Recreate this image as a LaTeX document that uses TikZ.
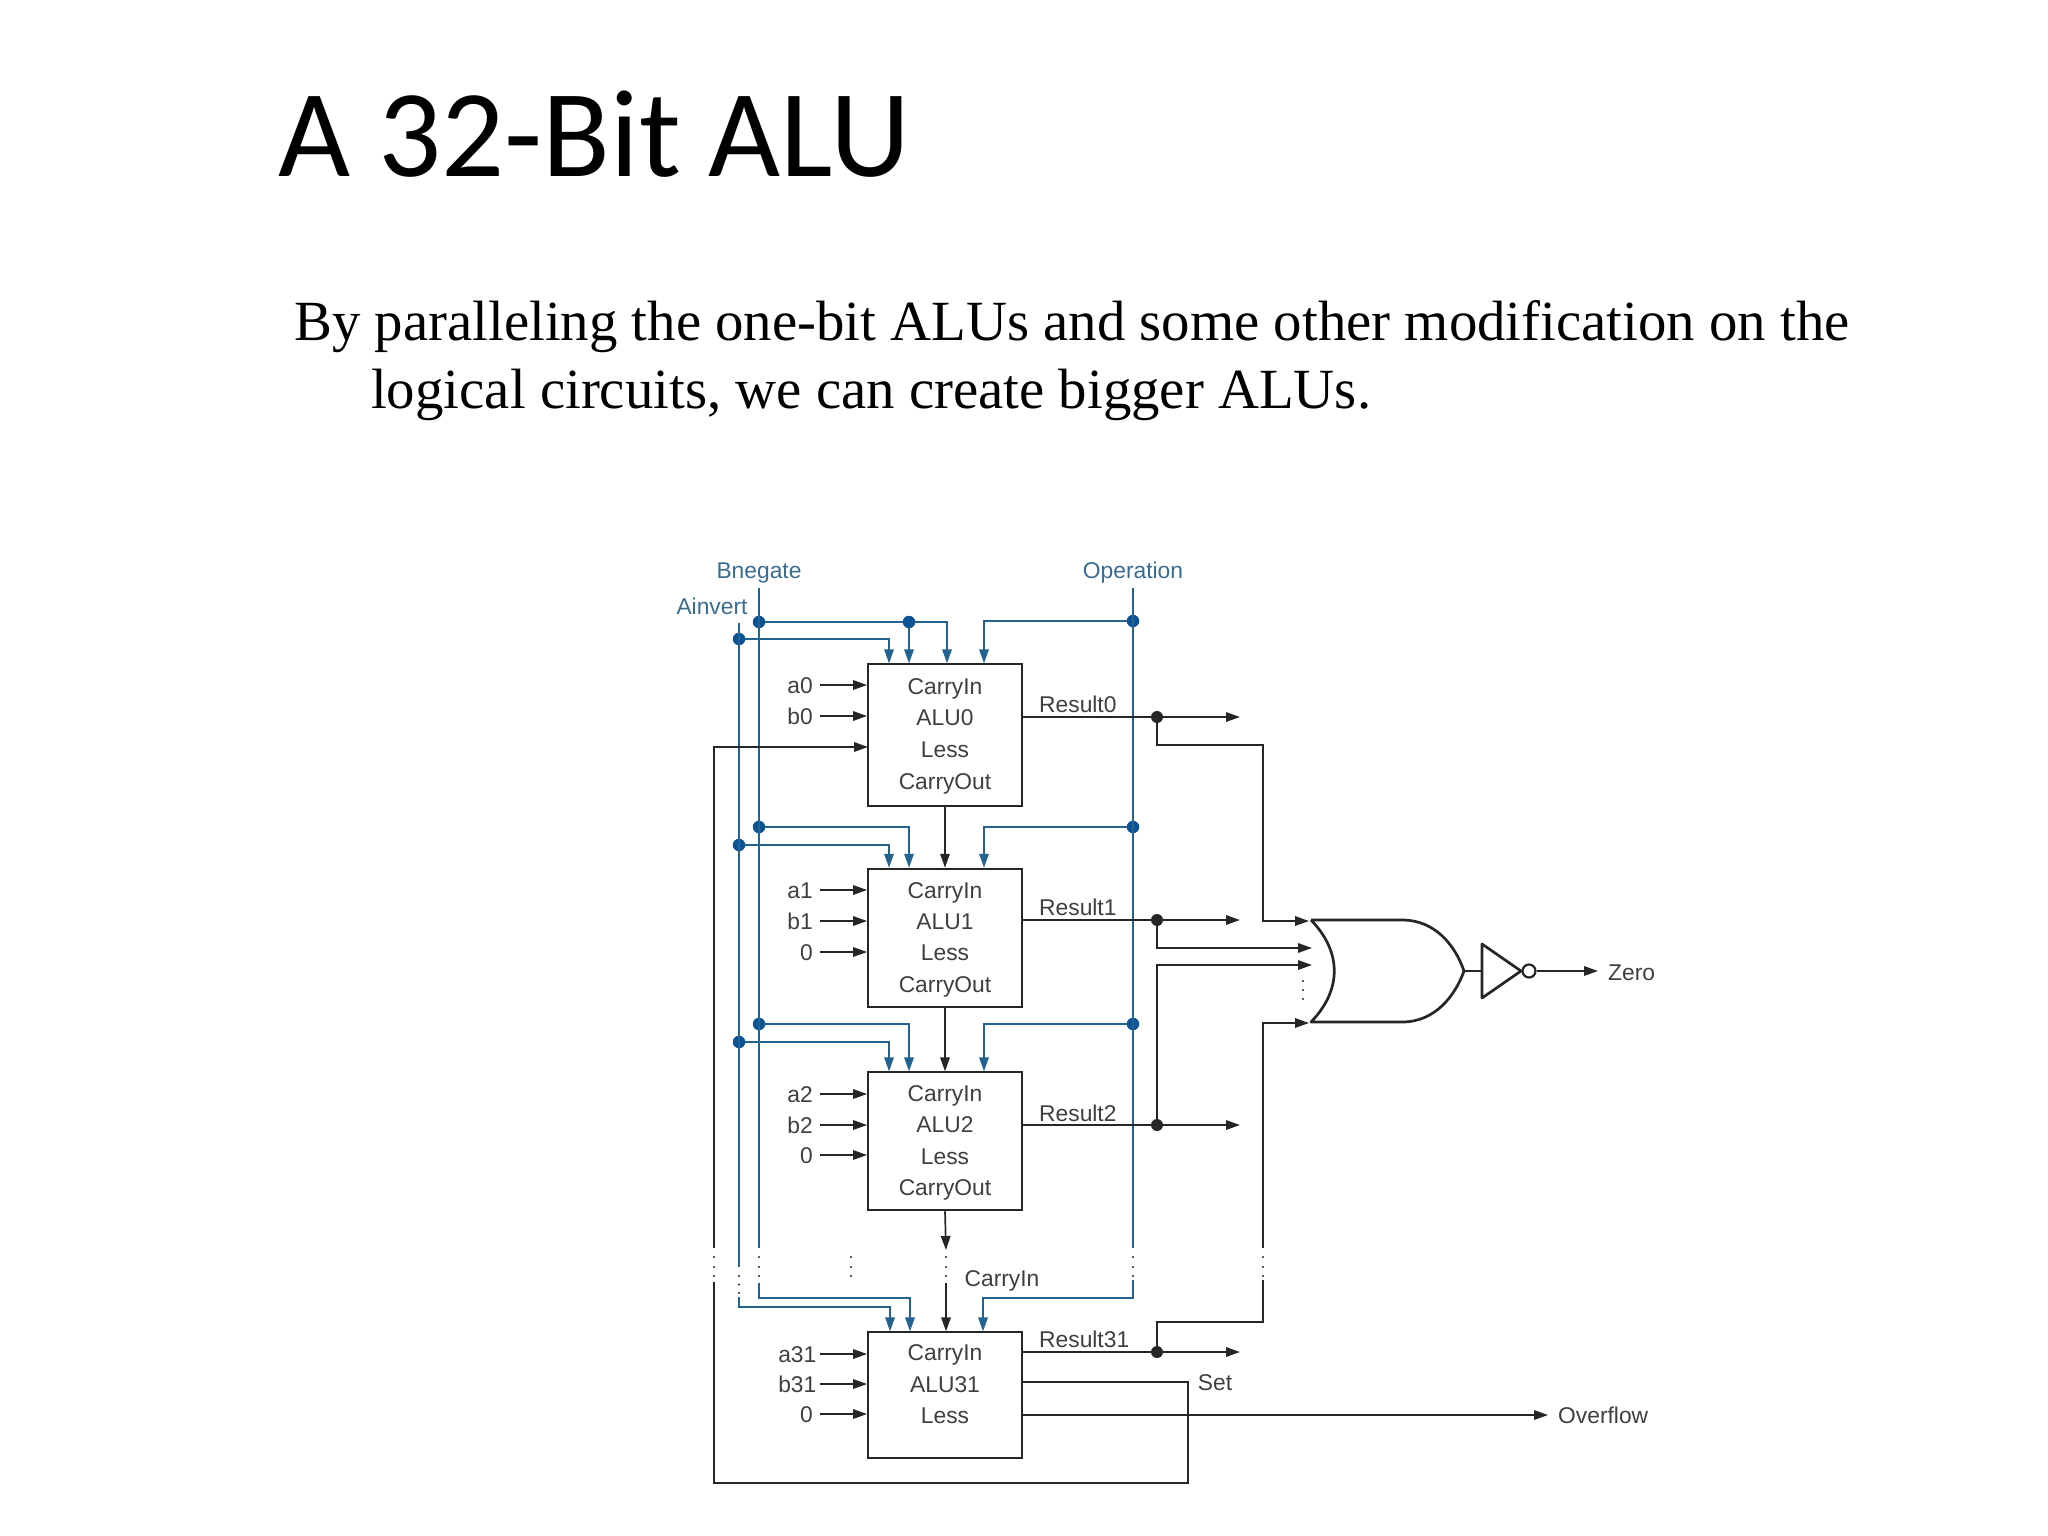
\documentclass[tikz,border=0pt]{standalone}
\usepackage{fontspec}
\usetikzlibrary{arrows.meta}
\newfontfamily\titlefont{Carlito}
\newfontfamily\bodyfont{Liberation Serif}
\setmainfont{Liberation Sans}
\definecolor{wirec}{HTML}{262626}
\definecolor{busc}{HTML}{22648F}
\definecolor{busdotc}{HTML}{0B5394}
\definecolor{lblc}{HTML}{3F3F3F}
\definecolor{buslblc}{HTML}{3A6C90}
\tikzset{
  wire/.style={draw=wirec,line width=1.7pt},
  wirearr/.style={wire,-{Triangle[length=14pt,width=9.5pt]}},
  bus/.style={draw=busc,line width=1.7pt},
  busarr/.style={bus,-{Triangle[length=14pt,width=9.5pt]}},
  gate/.style={draw=wirec,line width=2.7pt,line join=round},
  alu/.style={draw=wirec,line width=1.9pt,fill=white,minimum width=154pt,inner sep=0pt},
  lbl/.style={text=lblc,font=\fontsize{22.8}{23}\selectfont,text height=16.5pt,text depth=0pt,inner sep=0pt},
  buslbl/.style={lbl,text=buslblc},
  input/.style={lbl,anchor=east,inner xsep=7pt},
  jdot/.style={circle,fill=wirec,minimum size=12pt,inner sep=0pt},
  bdot/.style={circle,fill=busdotc,minimum size=12.5pt,inner sep=0pt},
  bubble/.style={circle,draw=wirec,line width=2.2pt,minimum size=13pt,inner sep=0pt}
}
\begin{document}
\begin{tikzpicture}[x=1pt,y=-1pt]
  \useasboundingbox (0,0) rectangle (2048,1536);

  % heading
  \node[anchor=base west,inner sep=0pt,font=\titlefont\fontsize{124.5}{124.5}\selectfont] (title) at (278,176) {A 32-Bit ALU};
  \node[anchor=base west,inner sep=0pt,font=\bodyfont\fontsize{56.8}{56.8}\selectfont] (line1) at (294,340) {By paralleling the one-bit ALUs and some other modification on the};
  \node[anchor=base west,inner sep=0pt,font=\bodyfont\fontsize{56.8}{56.8}\selectfont] (line2) at (371,408) {logical circuits, we can create bigger ALUs.};

  % ALU boxes
  \foreach \i/\t/\b in {0/664.3/805.7,1/868.7/1006.7,2/1072.3/1210.3,31/1332.3/1458}
    \node[alu,minimum height={(\b-\t)*1pt}] (alu\i) at (945,{(\t+\b)/2}) {};

  % text in the boxes
  \foreach \i/\p/\q/\r/\s in {0/686/717/749/781,1/890/921/952/984,2/1093/1124/1156/1187}{
    \node[lbl] (ci\i) at (945,\p) {CarryIn};
    \node[lbl] (nm\i) at (945,\q) {ALU\i};
    \node[lbl] (ls\i) at (945,\r) {Less};
    \node[lbl] (co\i) at (945,\s) {CarryOut};
  }
  \node[lbl] (ci31) at (945,1352) {CarryIn};
  \node[lbl] (nm31) at (945,1384) {ALU31};
  \node[lbl] (ls31) at (945,1415) {Less};

  % inputs
  \node[input] (a0) at (820,685) {a0};
  \node[input] (b0) at (820,716) {b0};
  \node[input] (a1) at (820,890) {a1};
  \node[input] (b1) at (820,921) {b1};
  \node[input] (z1) at (820,952) {0};
  \node[input] (a2) at (820,1094) {a2};
  \node[input] (b2) at (820,1125) {b2};
  \node[input] (z2) at (820,1155) {0};
  \node[input,inner xsep=3.5pt] (a31) at (820,1354) {a31};
  \node[input,inner xsep=3.5pt] (b31) at (820,1384) {b31};
  \node[input] (z31) at (820,1414) {0};
  \foreach \n/\i in {a0/0,b0/0,a1/1,b1/1,z1/1,a2/2,b2/2,z2/2,a31/31,b31/31,z31/31}
    \draw[wirearr] (\n.east) -- (\n.east -| alu\i.west);

  % carry chain
  \coordinate (cyA) at (946,1250);
  \coordinate (cyB) at (946,1283);
  \draw[wirearr] (alu0.south) -- (alu1.north);
  \draw[wirearr] (alu1.south) -- (alu2.north);
  \draw[wirearr] (alu2.south) -- (cyA);
  \draw[wirearr] (cyB) -- (cyB |- alu31.north);
  \node[lbl] (cyl) at (1002,1278) {CarryIn};

  % control buses
  \node[buslbl] (bnl) at (759,570) {Bnegate};
  \node[buslbl] (ail) at (712,606) {Ainvert};
  \node[buslbl] (opl) at (1133,570) {Operation};
  \coordinate (cA) at (889,0);
  \coordinate (cB) at (909,0);
  \coordinate (cD) at (984,0);
  \coordinate (bnT) at (759,588);
  \coordinate (aiT) at (739,623);
  \coordinate (opT) at (1133,588);
  \coordinate (bnE) at (759,1248);
  \coordinate (aiE) at (739,1267);
  \coordinate (opE) at (1133,1248);
  \coordinate (bnR) at (759,1283);
  \coordinate (aiR) at (739,1297);
  \coordinate (opR) at (1133,1280);
  \node[bdot] (bn0) at (759,622) {};
  \node[bdot] (bn1) at (759,827) {};
  \node[bdot] (bn2) at (759,1024) {};
  \node[bdot] (ai0) at (739,639) {};
  \node[bdot] (ai1) at (739,845) {};
  \node[bdot] (ai2) at (739,1042) {};
  \node[bdot] (op0) at (1133,621) {};
  \node[bdot] (op1) at (1133,827) {};
  \node[bdot] (op2) at (1133,1024) {};
  \node[bdot] (mid0) at (909,622) {};
  \draw[bus] (bnT) -- (bnE);
  \draw[bus] (aiT) -- (aiE);
  \draw[bus] (opT) -- (opE);
  \draw[bus] (bn0) -- (mid0);
  \draw[busarr] (mid0) -- (cB |- alu0.north);
  \draw[busarr] (mid0) -| (alu0.north -| 947,0);
  \draw[busarr] (ai0) -| (cA |- alu0.north);
  \draw[busarr] (op0) -| (cD |- alu0.north);
  \foreach \i in {1,2}{
    \draw[busarr] (bn\i) -| (cB |- alu\i.north);
    \draw[busarr] (ai\i) -| (cA |- alu\i.north);
    \draw[busarr] (op\i) -| (cD |- alu\i.north);
  }
  \coordinate (bnK) at (910,1298);
  \coordinate (aiK) at (890,1307);
  \coordinate (opK) at (983,1298);
  \draw[busarr] (bnR) |- (bnK) -- (bnK |- alu31.north);
  \draw[busarr] (aiR) |- (aiK) -- (aiK |- alu31.north);
  \draw[busarr] (opR) |- (opK) -- (opK |- alu31.north);

  % results
  \node[jdot] (r0) at (1157,717) {};
  \node[jdot] (r1) at (1157,920) {};
  \node[jdot] (r2) at (1157,1125) {};
  \node[jdot] (r31) at (1157,1352) {};
  \foreach \i/\y in {0/704,1/907,2/1113,31/1339}{
    \node[lbl,anchor=west] (rl\i) at (1039,\y) {Result\i};
    \draw[wire] (alu\i.east |- r\i) -- (r\i);
    \coordinate (re\i) at (r\i -| 1240,0);
    \draw[wirearr] (r\i) -- (re\i);
  }

  % or gate inputs
  \coordinate (orA) at (1309,921);
  \coordinate (orB) at (1312,948);
  \coordinate (orC) at (1312,965);
  \coordinate (orD) at (1309,1023);
  \coordinate (zeA) at (1263,745);
  \coordinate (zeB) at (1263,1248);
  \coordinate (zeC) at (1263,1280);
  \coordinate (zeD) at (1263,1322);
  \draw[wirearr] (r0) |- (zeA) |- (orA);
  \draw[wirearr] (r1) |- (orB);
  \draw[wirearr] (r2) |- (orC);
  \draw[wire] (r31) |- (zeD) -- (zeC);
  \draw[wirearr] (zeB) |- (orD);

  % or gate and inverter
  \draw[gate] (1311,920) -- (1402,920) .. controls (1435,920) and (1455,945) .. (1464,971)
    .. controls (1455,996) and (1435,1022) .. (1402,1022) -- (1311,1022)
    .. controls (1342,990) and (1342,952) .. (1311,920);
  \draw[gate] (1482,944) -- (1521,971) -- (1482,998) -- cycle;
  \draw[wire] (1464,971) -- (1482,971);
  \node[bubble] (bub) at (1529,971) {};
  \node[lbl,anchor=west,inner xsep=10pt] (zero) at (1598,972) {Zero};
  \draw[wirearr] (bub) -- (bub -| zero.west);

  % set and overflow
  \node[lbl] (setl) at (1215,1382) {Set};
  \node[lbl,anchor=west,inner xsep=10pt] (ovf) at (1548,1415) {Overflow};
  \draw[wirearr] (alu31.east |- ovf.west) -- (ovf.west);
  \coordinate (stA) at (1021,1382);
  \coordinate (stB) at (1188,1483);
  \coordinate (stC) at (714,1282);
  \coordinate (lsT) at (714,1248);
  \coordinate (lsE) at (868,747);
  \draw[wire] (stA) -| (stB) -| (stC);
  \draw[wirearr] (lsT) |- (lsE);

  % dots where the columns are cut
  \foreach \x in {714,759,851,946,1133,1263}
    \foreach \y in {1257,1267,1276}
      \fill[wirec] (\x,\y) circle (1.1pt);
  \foreach \y in {1276,1284.5,1293}
    \fill[wirec] (739,\y) circle (1.1pt);
  \foreach \y in {981,990,999}
    \fill[wirec] (1303,\y) circle (1.1pt);
\end{tikzpicture}
\end{document}
